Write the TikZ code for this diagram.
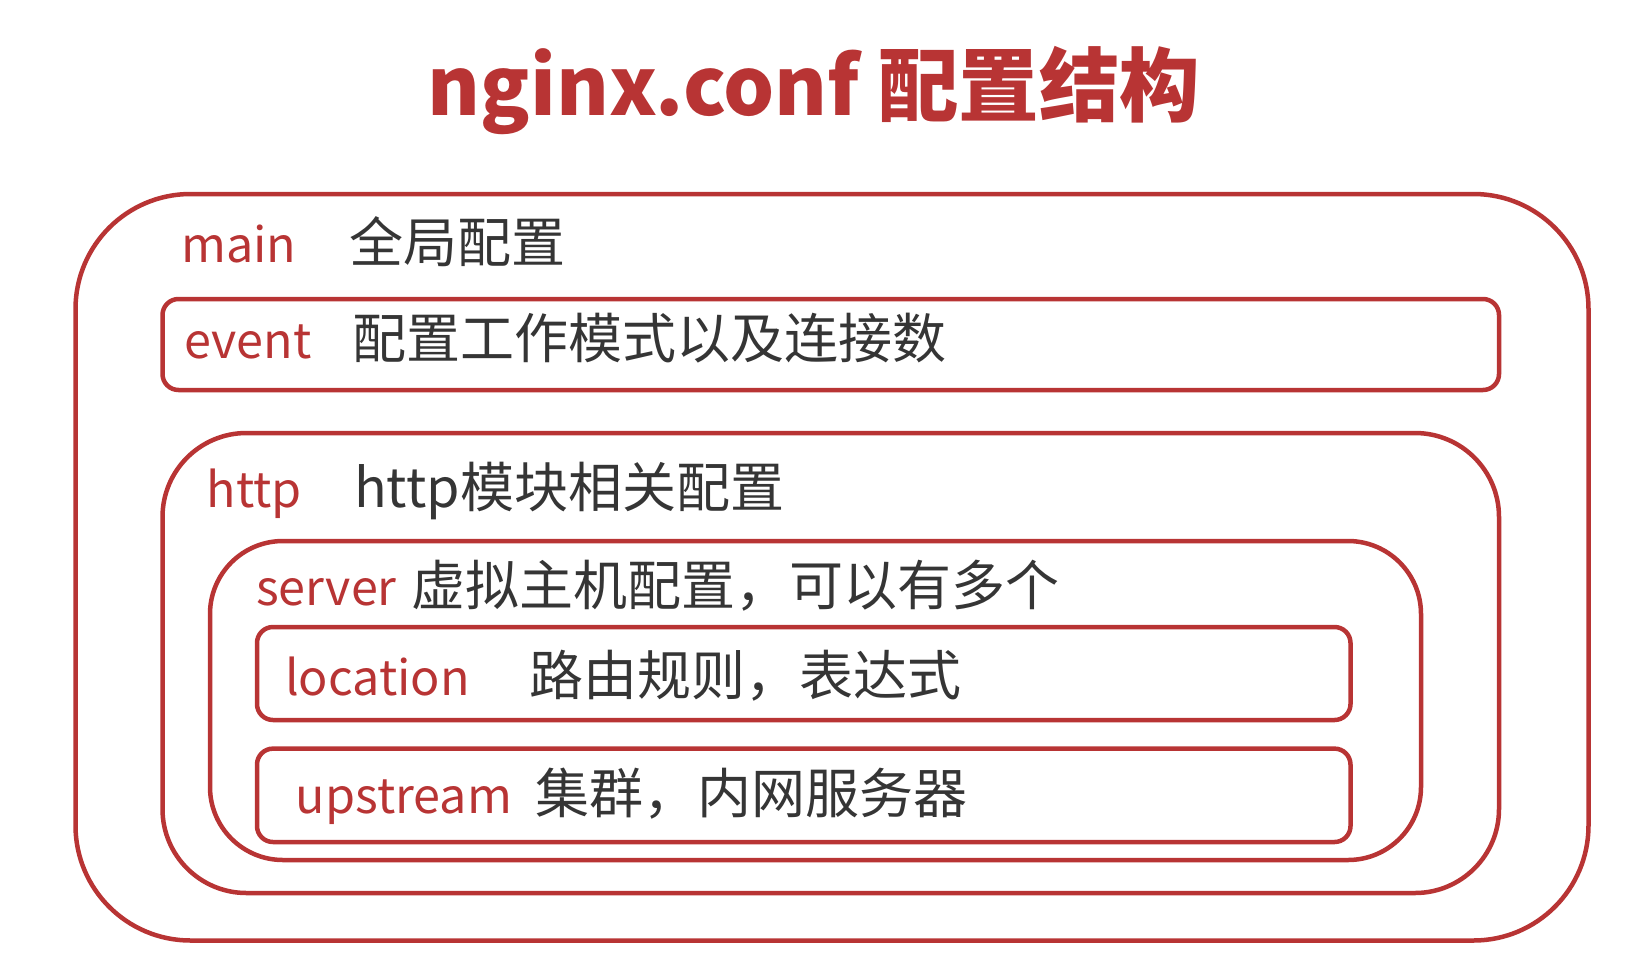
\documentclass[tikz,border=0pt]{standalone}
\usepackage{fontspec}
\setmainfont{Noto Sans CJK SC}
\definecolor{boxred}{HTML}{B83434}
\definecolor{txtgray}{HTML}{353535}
\begin{document}
\begin{tikzpicture}[x=1pt,y=-1pt,
  frame/.style={draw=boxred,line width=4.5pt},
  key/.style={anchor=base west,inner sep=0pt,text=boxred,font=\fontsize{48.5}{60}\selectfont},
  desc/.style={anchor=base west,inner sep=0pt,text=txtgray,font=\fontsize{54}{60}\selectfont}]
\useasboundingbox (0,0) rectangle (1644,978);
% title
\node[anchor=base,inner sep=0pt,text=boxred,font=\bfseries\fontsize{80.5}{90}\selectfont] (title) at (814,115) {nginx.conf 配置结构};
% boxes
\draw[frame,rounded corners=115pt] (75.5,194) rectangle (1588.5,940.5);
\draw[frame,rounded corners=16pt] (162.5,299) rectangle (1499,390);
\draw[frame,rounded corners=84pt] (162.5,433) rectangle (1499,893);
\draw[frame,rounded corners=73pt] (210,541) rectangle (1421,860);
\draw[frame,rounded corners=16pt] (257,627) rectangle (1350.5,720);
\draw[frame,rounded corners=16pt] (257,748.6) rectangle (1350.5,842);
% labels
\node[key] (kmain) at (181,262) {main};
\node[desc] (dmain) at (349,262) {全局配置};
\node[key] (kevent) at (184.5,358.6) {event};
\node[desc] (devent) at (352,358.6) {配置工作模式以及连接数};
\node[key] (khttp) at (206.5,507) {http};
\node[desc] (dhttp) at (354,507) {http模块相关配置};
\node[key] (kserver) at (256,605) {server};
\node[desc] (dserver) at (411,605) {虚拟主机配置，可以有多个};
\node[key] (kloc) at (285,695) {location};
\node[desc] (dloc) at (529.5,695) {路由规则，表达式};
\node[key] (kup) at (295.7,813.6) {upstream};
\node[desc] (dup) at (535,813.6) {集群，内网服务器};
\end{tikzpicture}
\end{document}
